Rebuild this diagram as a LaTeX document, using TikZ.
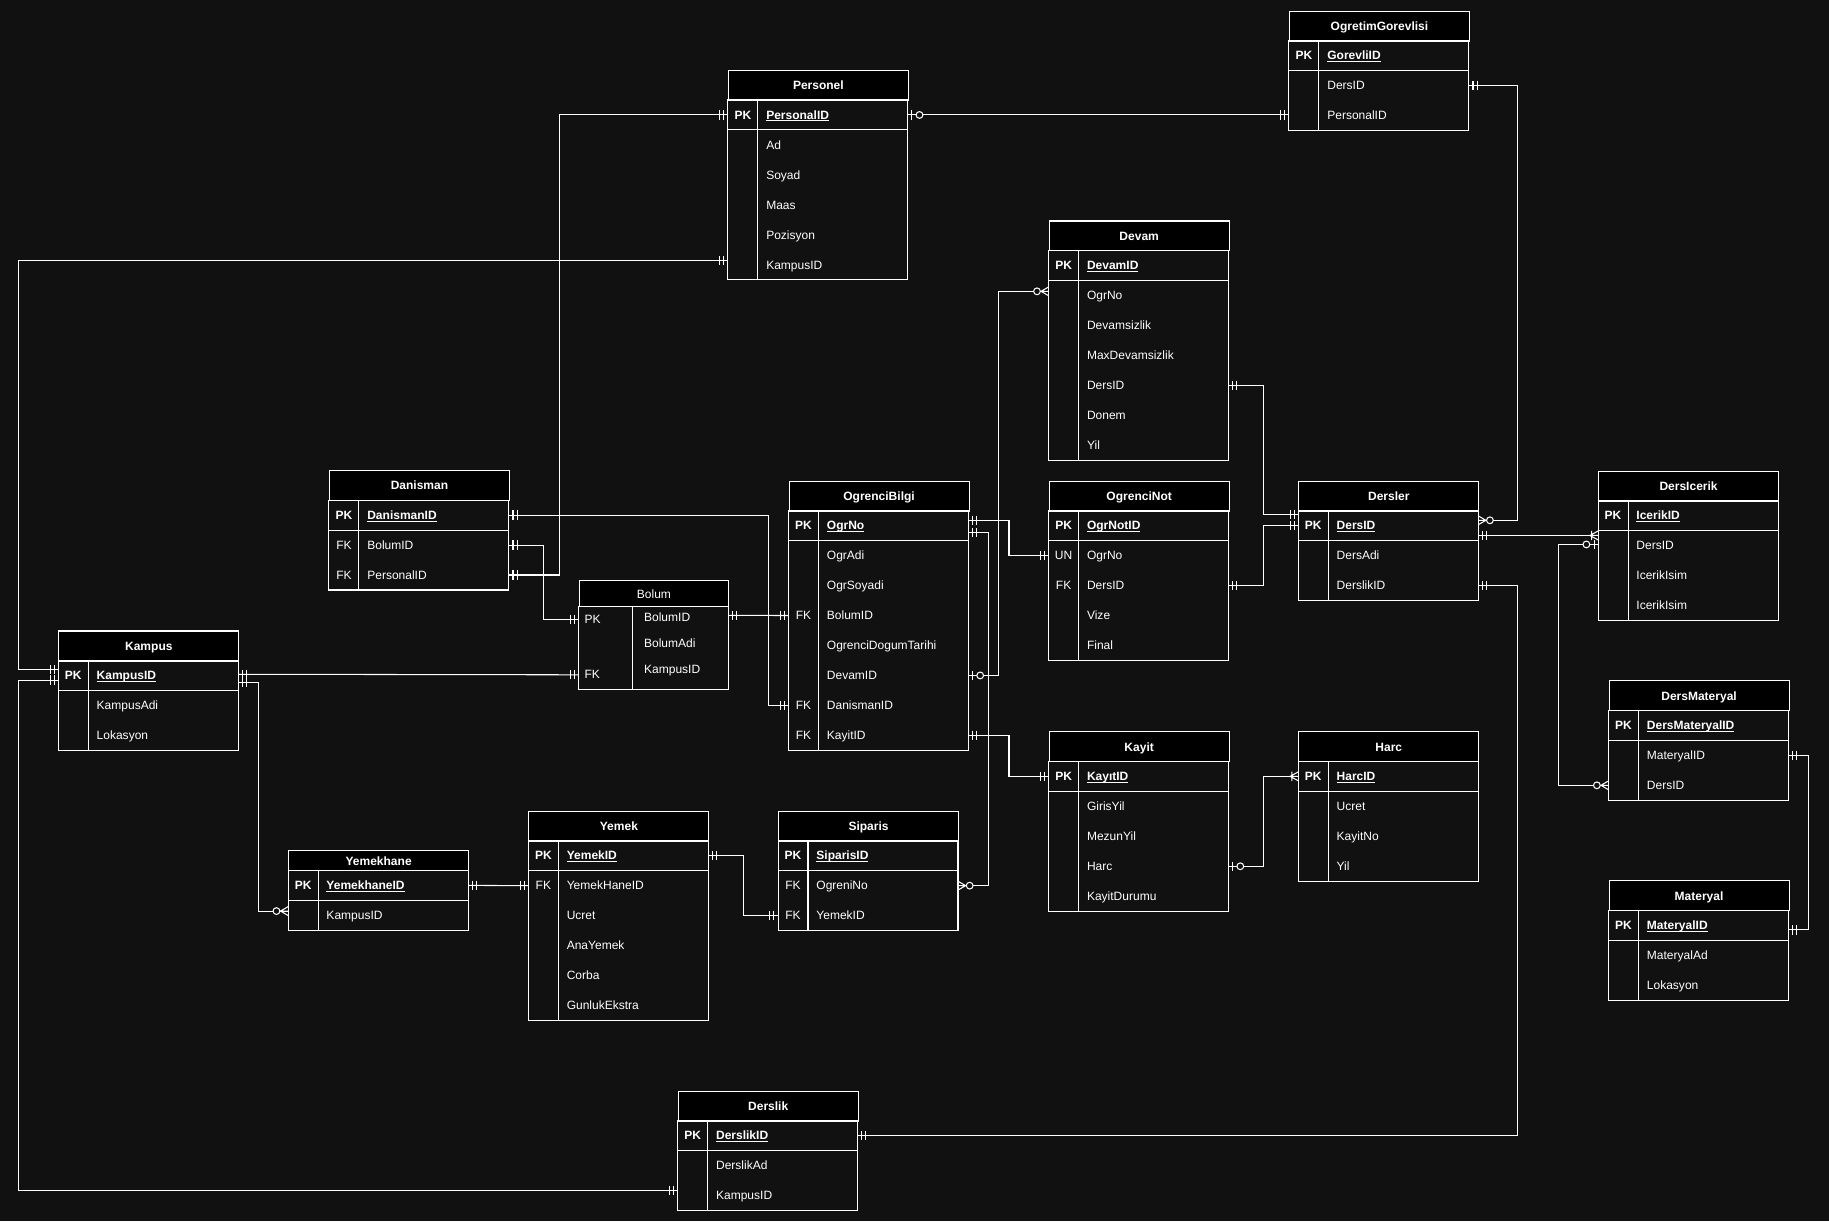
\documentclass[tikz,border=0pt]{standalone}
\usepackage{fontspec}
\setmainfont{Liberation Sans}
\usetikzlibrary{calc}
\definecolor{bg}{HTML}{111111}
\newcommand\pkf[1]{\setbox0\hbox{\bfseries #1}\rlap{\rule[-1.7pt]{\wd0}{0.7pt}}\box0}
\tikzset{
  tline/.style={draw=white, line width=0.9pt},
  conn/.style={draw=white, line width=0.9pt},
  markline/.style={draw=white, line width=0.9pt},
  hdr/.style={draw=white, fill=black, line width=0.9pt, minimum width=154.3pt, inner sep=0pt,
    text=white, text height=7.4pt, text depth=0pt, font=\fontsize{10.3}{12}\selectfont\bfseries},
  bolhdr/.style={draw=white, fill=black, line width=0.9pt, minimum width=128.4pt, minimum height=22.3pt,
    inner sep=0pt, text=white, text height=7.4pt, text depth=0pt, font=\fontsize{10.3}{12}\selectfont},
  keyt/.style={inner sep=0pt, text=white, text height=7.4pt, text depth=0pt, font=\fontsize{10.3}{12}\selectfont},
  fldt/.style={inner sep=0pt, anchor=west, text=white, text height=7.4pt, text depth=0pt, font=\fontsize{10.3}{12}\selectfont},
}
% #1 header height, #2 name, #3 x, #4 y, #5 title, #6 rows, #7 key/field list
\newcommand\ertable[7][25.7]{%
  \node[hdr, anchor=north west, minimum height=#1pt] (#2) at (#3,#4) {#5};
  \foreach[count=\i] \k/\f in {#7}{%
    \pgfmathsetmacro\ry{#4+#1+(\i-0.5)*25.7}%
    \node[keyt] (#2-k\i) at ({#3+12.85},\ry) {\k};
    \node[fldt] (#2-\i) at ({#3+32.7},\ry) {\f};
    \coordinate (#2-\i-L) at (#3,\ry);
    \coordinate (#2-\i-R) at ({#3+154.3},\ry);
  }%
  \pgfmathsetmacro\bot{#4+#1+#6*25.7}%
  \draw[tline] (#3,{#4+#1}) rectangle ({#3+154.3},\bot);
  \draw[tline] (#3,{#4+#1+25.7}) -- ({#3+154.3},{#4+#1+25.7});
  \draw[tline] ({#3+25.7},{#4+#1}) -- ({#3+25.7},\bot);
}
\newcommand\mkone{\draw[markline] (3.5,-4)--(3.5,4) (7,-4)--(7,4);}
\newcommand\mkzeroone{\draw[markline] (3.2,-4)--(3.2,4); \draw[markline, fill=bg] (10,0) circle[radius=2.9pt];}
\newcommand\mkzeromany{\draw[markline] (0,-3.8)--(6.5,0)--(0,3.8) (0,0)--(6.5,0); \draw[markline, fill=bg] (10,0) circle[radius=2.9pt];}
\newcommand\mkonemany{\draw[markline] (0,-3.8)--(7,0)--(0,3.8) (0,0)--(7,0) (5.5,-4)--(5.5,4);}
\newcommand\mk[3]{\begin{scope}[shift={#2},xscale=#3]\csname mk#1\endcsname\end{scope}}

\begin{document}
\begin{tikzpicture}[x=1pt,y=-1pt]
\fill[bg] (0,0) rectangle (1568,1047);
\useasboundingbox (0,0) rectangle (1568,1047);

% ---------- tables ----------
\ertable{per}{624}{60}{Personel}{6}{\textbf{PK}/\pkf{PersonalID},{}/Ad,{}/Soyad,{}/Maas,{}/Pozisyon,{}/KampusID}
\ertable{og}{1105}{9}{OgretimGorevlisi}{3}{\textbf{PK}/\pkf{GorevliID},{}/DersID,{}/PersonalID}
\ertable{dev}{899}{189}{Devam}{7}{\textbf{PK}/\pkf{DevamID},{}/OgrNo,{}/Devamsizlik,{}/MaxDevamsizlik,{}/DersID,{}/Donem,{}/Yil}
\ertable{dan}{282}{403}{Danisman}{3}{\textbf{PK}/\pkf{DanismanID},FK/BolumID,FK/PersonalID}
\ertable{ob}{676}{412}{OgrenciBilgi}{8}{\textbf{PK}/\pkf{OgrNo},{}/OgrAdi,{}/OgrSoyadi,FK/BolumID,{}/OgrenciDogumTarihi,{}/DevamID,FK/DanismanID,FK/KayitID}
\ertable{on}{899}{412}{OgrenciNot}{5}{\textbf{PK}/\pkf{OgrNotID},UN/OgrNo,FK/DersID,{}/Vize,{}/Final}
\ertable{drs}{1113}{412}{Dersler}{3}{\textbf{PK}/\pkf{DersID},{}/DersAdi,{}/DerslikID}
\ertable{dic}{1370}{403.5}{DersIcerik}{4}{\textbf{PK}/\pkf{IcerikID},{}/DersID,{}/IcerikIsim,{}/IcerikIsim}
\ertable{kam}{50}{540.5}{Kampus}{3}{\textbf{PK}/\pkf{KampusID},{}/KampusAdi,{}/Lokasyon}
\ertable[17.2]{yk}{247}{729}{Yemekhane}{2}{\textbf{PK}/\pkf{YemekhaneID},{}/KampusID}
\ertable{yem}{453}{695}{Yemek}{6}{\textbf{PK}/\pkf{YemekID},FK/YemekHaneID,{}/Ucret,{}/AnaYemek,{}/Corba,{}/GunlukEkstra}
\ertable{sip}{667}{695}{Siparis}{3}{\textbf{PK}/\pkf{SiparisID},FK/OgreniNo,FK/YemekID}
\ertable{kay}{899}{627}{Kayit}{5}{\textbf{PK}/\pkf{KayıtID},{}/GirisYil,{}/MezunYil,{}/Harc,{}/KayitDurumu}
\ertable{har}{1113}{627}{Harc}{4}{\textbf{PK}/\pkf{HarcID},{}/Ucret,{}/KayitNo,{}/Yil}
\ertable{dm}{1379}{583.3}{DersMateryal}{3}{\textbf{PK}/\pkf{DersMateryalID},{}/MateryalID,{}/DersID}
\ertable{mat}{1379}{754.7}{Materyal}{3}{\textbf{PK}/\pkf{MateryalID},{}/MateryalAd,{}/Lokasyon}
\ertable{der}{581}{935}{Derslik}{3}{\textbf{PK}/\pkf{DerslikID},{}/DerslikAd,{}/KampusID}

% Bolum (different style)
\node[bolhdr, anchor=north west] (bol) at (496,497.5) {Bolum};
\draw[tline] (496,519.8) rectangle (624.4,591.5);
\draw[tline] (542,519.8) -- (542,591.5);
\node[keyt, anchor=west] (bol-k1) at (501,531) {PK};
\node[keyt, anchor=west] (bol-k2) at (501,578) {FK};
\node[fldt] (bol-1) at (552,529.5) {BolumID};
\node[fldt] (bol-2) at (552,551.5) {BolumAdi};
\node[fldt] (bol-3) at (552,574) {KampusID};
\coordinate (bol-pk-L) at (496,531);
\coordinate (bol-fk-L) at (496,578.5);
\coordinate (bol-id-R) at (624.4,527.6);

% ---------- connectors ----------
\draw[conn] (per-1-L) -| ([xshift=43pt]dan-3-R) -- (dan-3-R);
\draw[conn] (per-1-R) -- (og-3-L |- per-1-R);
\draw[conn] ([yshift=4pt]per-6-L) -- ++(-608,0) |- ([yshift=5pt]kam-1-L);
\draw[conn] ([yshift=-4pt]kam-1-L) -- ++(-34,0) |- ([yshift=4.5pt]der-3-L);
\draw[conn] ([yshift=1pt]kam-1-R) -- (bol-fk-L);
\draw[conn] ([yshift=-6pt]kam-1-R) -- ++(17,0) |- ([yshift=3.7pt]yk-2-L);
\draw[conn] (dan-1-R) -| ([xshift=-17pt]ob-7-L) -- (ob-7-L);
\draw[conn] (dan-2-R) -| ([xshift=-30pt]bol-pk-L) -- (bol-pk-L);
\draw[conn] (bol-id-R) -- (ob-4-L);
\draw[conn] ([yshift=4.5pt]ob-1-R) -| ([xshift=-34pt]on-2-L) -- (on-2-L);
\draw[conn] ([yshift=-6pt]ob-1-R) -- ++(17.5,0) |- (sip-2-R);
\draw[conn] (ob-6-R) -| ([xshift=-43pt,yshift=3.5pt]dev-2-L) -- ([yshift=3.5pt]dev-2-L);
\draw[conn] (ob-8-R) -| ([xshift=-34pt]kay-1-L) -- (kay-1-L);
\draw[conn] (dev-5-R) -| ([xshift=-30pt,yshift=9.7pt]drs-1-L) -- ([yshift=9.7pt]drs-1-L);
\draw[conn] (on-3-R) -| ([xshift=-30pt]drs-1-L) -- (drs-1-L);
\draw[conn] (og-2-R) -| ([xshift=34pt,yshift=4.5pt]drs-1-R) -- ([yshift=4.5pt]drs-1-R);
\draw[conn] ([yshift=-8.5pt]drs-1-R) -- ([yshift=-8.5pt]drs-1-R -| dic-2-L);
\draw[conn] ([yshift=1pt]dic-2-L) -- ++(-34,0) |- (dm-3-L);
\draw[conn] (drs-3-R) -- ++(33.7,0) |- (der-1-R);
\draw[conn] (dm-2-R) -- ++(17,0) |- ([yshift=-4pt]mat-1-R);
\draw[conn] (kay-4-R) -| ([xshift=-30pt]har-1-L) -- (har-1-L);
\draw[conn] (yk-1-R) -- (yem-2-L);
\draw[conn] (yem-1-R) -| ([xshift=-30pt]sip-3-L) -- (sip-3-L);

% ---------- cardinality marks ----------
\mk{one}{(per-1-L)}{-1} \mk{one}{(dan-3-R)}{1}
\mk{zeroone}{(per-1-R)}{1} \mk{one}{(og-3-L |- per-1-R)}{-1}
\mk{one}{([yshift=4pt]per-6-L)}{-1} \mk{one}{([yshift=5pt]kam-1-L)}{-1}
\mk{one}{([yshift=-4pt]kam-1-L)}{-1} \mk{one}{([yshift=4.5pt]der-3-L)}{-1}
\mk{one}{([yshift=1pt]kam-1-R)}{1} \mk{one}{(bol-fk-L)}{-1}
\mk{one}{([yshift=-6pt]kam-1-R)}{1} \mk{zeromany}{([yshift=3.7pt]yk-2-L)}{-1}
\mk{one}{(dan-1-R)}{1} \mk{one}{(ob-7-L)}{-1}
\mk{one}{(dan-2-R)}{1} \mk{one}{(bol-pk-L)}{-1}
\mk{one}{(bol-id-R)}{1} \mk{one}{(ob-4-L)}{-1}
\mk{one}{([yshift=4.5pt]ob-1-R)}{1} \mk{one}{(on-2-L)}{-1}
\mk{one}{([yshift=-6pt]ob-1-R)}{1} \mk{zeromany}{(sip-2-R)}{1}
\mk{zeroone}{(ob-6-R)}{1} \mk{zeromany}{([yshift=3.5pt]dev-2-L)}{-1}
\mk{one}{(ob-8-R)}{1} \mk{one}{(kay-1-L)}{-1}
\mk{one}{(dev-5-R)}{1} \mk{one}{([yshift=9.7pt]drs-1-L)}{-1}
\mk{one}{(on-3-R)}{1} \mk{one}{(drs-1-L)}{-1}
\mk{one}{(og-2-R)}{1} \mk{zeromany}{([yshift=4.5pt]drs-1-R)}{1}
\mk{one}{([yshift=-8.5pt]drs-1-R)}{1} \mk{onemany}{([yshift=-8.5pt]drs-1-R -| dic-2-L)}{-1}
\mk{zeroone}{([yshift=1pt]dic-2-L)}{-1} \mk{zeromany}{(dm-3-L)}{-1}
\mk{one}{(drs-3-R)}{1} \mk{one}{(der-1-R)}{1}
\mk{one}{(dm-2-R)}{1} \mk{one}{([yshift=-4pt]mat-1-R)}{1}
\mk{zeroone}{(kay-4-R)}{1} \mk{onemany}{(har-1-L)}{-1}
\mk{one}{(yk-1-R)}{1} \mk{one}{(yem-2-L)}{-1}
\mk{one}{(yem-1-R)}{1} \mk{one}{(sip-3-L)}{-1}
\end{tikzpicture}
\end{document}
